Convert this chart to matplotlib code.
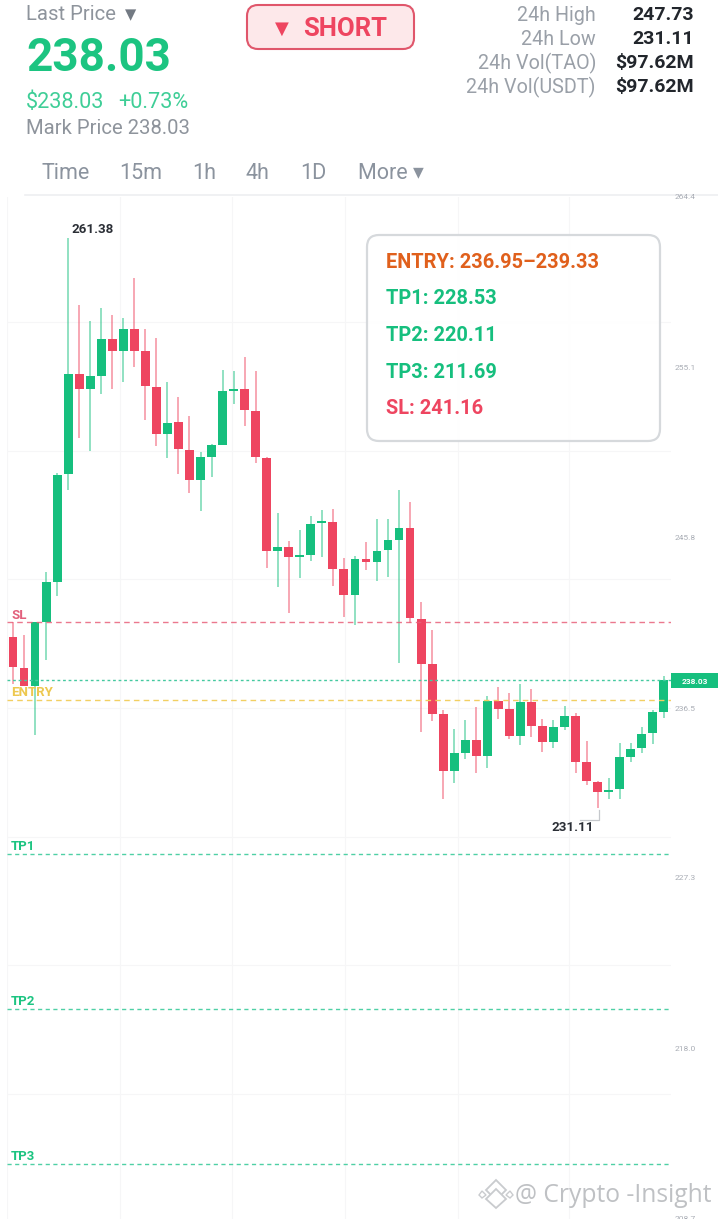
import matplotlib
matplotlib.use("Agg")
import matplotlib.pyplot as plt
import numpy as np
from matplotlib.patches import FancyBboxPatch, Rectangle, Polygon

plt.rcParams['font.family'] = ['Roboto', 'DejaVu Sans']

opens = [240.37, 238.68, 237.70, 241.18, 243.36, 249.25, 254.69, 253.88, 254.58, 256.60,
         255.95, 257.14, 255.95, 253.98, 251.42, 252.08, 250.55, 248.92, 250.17, 250.83,
         253.77, 253.88, 252.68, 250.12, 245.05, 245.27, 244.73, 244.83, 246.58, 246.63,
         244.07, 242.66, 244.62, 244.45, 245.11, 245.65, 246.30, 241.35, 238.90, 236.17,
         233.07, 234.05, 234.76, 233.89, 236.88, 236.45, 234.97, 236.83, 235.52, 234.65,
         235.47, 236.06, 233.56, 232.47, 231.92, 232.09, 233.83, 234.32, 235.14, 236.28]
highs = [241.18, 240.48, 241.18, 243.91, 249.30, 262.10, 258.45, 257.58, 258.29, 257.91,
         257.74, 259.92, 257.14, 256.65, 254.26, 253.44, 252.41, 250.44, 250.88, 254.91,
         254.86, 255.62, 254.86, 250.17, 247.12, 245.60, 246.20, 246.96, 247.29, 247.34,
         244.67, 244.78, 245.54, 246.79, 246.79, 248.37, 247.72, 242.27, 240.75, 236.39,
         235.36, 235.85, 236.55, 237.15, 237.64, 237.32, 237.81, 237.53, 235.90, 235.85,
         236.61, 236.23, 234.70, 232.52, 232.69, 234.59, 234.59, 235.47, 236.39, 238.24]
lows = [237.81, 237.70, 235.03, 239.11, 242.60, 248.37, 251.21, 250.50, 253.60, 253.88,
        254.26, 255.07, 252.19, 250.77, 250.12, 249.25, 248.21, 247.23, 249.08, 250.83,
        253.06, 251.86, 249.85, 244.13, 243.09, 241.67, 243.58, 244.51, 244.73, 243.15,
        241.46, 241.02, 244.02, 243.42, 243.64, 238.95, 241.13, 235.19, 235.79, 231.54,
        232.41, 233.72, 232.96, 233.23, 235.90, 234.81, 234.48, 234.92, 234.10, 234.32,
        235.30, 232.96, 232.31, 231.05, 231.54, 231.54, 233.56, 234.05, 234.54, 235.96]
closes = [238.73, 237.70, 241.18, 243.36, 249.19, 254.69, 253.88, 254.58, 256.60, 255.95,
          257.14, 255.95, 254.04, 251.42, 252.02, 250.61, 248.92, 250.17, 250.83, 253.77,
          253.88, 252.73, 250.17, 245.05, 245.27, 244.73, 244.83, 246.52, 246.63, 244.07,
          242.66, 244.62, 244.45, 245.05, 245.65, 246.30, 241.40, 238.90, 236.17, 233.07,
          234.05, 234.76, 233.89, 236.88, 236.45, 234.97, 236.83, 235.52, 234.65, 235.47,
          236.06, 233.56, 232.52, 231.92, 232.03, 233.83, 234.27, 235.08, 236.28, 238.03]

price_ticks = [264.4, 255.1, 245.8, 236.5, 227.3, 218.0, 208.7]
grid_prices = [257.5, 250.5, 243.5, 236.5, 229.5, 222.5, 215.5]
grid_bars = [-0.54, 9.7, 19.9, 30.1, 40.3, 50.4]

levels = {'SL': 241.16, 'ENTRY': 236.95, 'TP1': 228.53, 'TP2': 220.11, 'TP3': 211.69}
last_price = 238.03

stats_names = ['24h High', '24h Low', '24h Vol(TAO)', '24h Vol(USDT)']
stats_values = ['247.73', '231.11', '$97.62M', '$97.62M']
tabs = ['Time', '15m', '1h', '4h', '1D', 'More ▾']
tab_x = [41, 119, 192, 246, 300, 358]
box_lines = ['ENTRY: 236.95–239.33', 'TP1: 228.53', 'TP2: 220.11', 'TP3: 211.69', 'SL: 241.16']

GREEN = '#16bf7e'
RED = '#ee4560'
W, H = 718, 1219

fig = plt.figure(figsize=(W / 100, H / 100), dpi=100, facecolor='white')

# price chart, scale taken from the axis labels (18.36 px per unit)
left, right, top, bottom = 7, 671, 197, 1219
ax = fig.add_axes([left / W, 1 - bottom / H, (right - left) / W, (bottom - top) / H])
ax.set_xlim((left - 13) / 11.03, (right - 13) / 11.03)
ax.set_ylim(236.5 + (708 - bottom) / 18.36, 236.5 + (708 - top) / 18.36)
for s in ax.spines.values():
    s.set_visible(False)
ax.set_xticks(grid_bars)
ax.set_yticks(grid_prices)
ax.tick_params(length=0, labelbottom=False, labelleft=False)
ax.grid(True, color='#f6f6f7', lw=0.8)
ax.set_axisbelow(True)

o = np.array(opens)
c = np.array(closes)
idx = np.arange(len(o))
cols = [GREEN if b >= a else RED for a, b in zip(o, c)]
ax.vlines(idx, lows, highs, colors=cols, lw=1.1, alpha=0.6, zorder=2)
ax.bar(idx, np.maximum(np.abs(c - o), 0.12), bottom=np.minimum(o, c), width=0.8, color=cols, zorder=3)

ax.axhline(levels['SL'], color='#e8607a', lw=1, ls=(0, (4, 3)), alpha=0.85, zorder=4)
ax.axhline(levels['ENTRY'], color='#f2cf62', lw=1, ls=(0, (4, 3)), zorder=4)
ax.axhline(last_price, color='#45c9a0', lw=1, ls=(0, (2, 2)), zorder=4)
for k in ['TP1', 'TP2', 'TP3']:
    ax.axhline(levels[k], color='#4fd0a5', lw=1, ls=(0, (3, 2.5)), zorder=4)

# overlay in pixels for header, labels and the info card
ov = fig.add_axes([0, 0, 1, 1], zorder=10)
ov.set_xlim(0, W)
ov.set_ylim(H, 0)
ov.axis('off')
ov.patch.set_alpha(0)

ov.text(26, 15, 'Last Price', fontsize=14.6, color='#8e949c', va='center')
ov.text(125, 15, '▼', fontsize=10.5, color='#737a83', va='center')
ov.text(26, 58, '238.03', fontsize=33, color='#1cc481', fontweight='bold', va='center')
ov.text(26, 102, '$238.03', fontsize=15.6, color='#3fce97', va='center')
ov.text(118, 102, '+0.73%', fontsize=15.6, color='#3fce97', va='center')
ov.text(26, 128, 'Mark Price 238.03', fontsize=14.6, color='#8e949c', va='center')

ov.add_patch(FancyBboxPatch((247, 5), 167, 44, boxstyle='round,pad=0,rounding_size=11',
                            fc='#fde8ea', ec='#e0566b', lw=1.5))
ov.text(275, 29, '▼', fontsize=13, color=RED, va='center')
ov.text(303, 29, 'SHORT', fontsize=18.5, color=RED, fontweight='bold', va='center')

for i in range(4):
    y = 15.5 + i * 24
    ov.text(596, y, stats_names[i], fontsize=14.2, color='#9aa0a8', va='center', ha='right')
    ov.text(694, y, stats_values[i], fontsize=14, color='#22262c', fontweight='bold', va='center', ha='right')

for t, x in zip(tabs, tab_x):
    ov.text(x, 173.5, t, fontsize=15.5, color='#8b939e', va='center')
ov.plot([25, 718], [195, 195], color='#eeeff1', lw=1.2)

for p in price_ticks:
    y = 709 - (p - 236.5) * 18.36
    ov.text(685, y, f'{p:.1f}', fontsize=6, color='#a9adb5', va='center', ha='center')

ov.add_patch(Rectangle((671, 673), 47, 15, fc=GREEN, ec='none'))
ov.text(694.5, 681, '238.03', fontsize=6, color='white', fontweight='bold', va='center', ha='center')

ov.text(11, 615.5, 'SL', fontsize=9.5, color='#e2607c', fontweight='bold', va='center')
ov.text(11, 692.5, 'ENTRY', fontsize=9.5, color='#edc84f', fontweight='bold', va='center')
ov.text(11, 846.5, 'TP1', fontsize=9.5, color='#1cc481', fontweight='bold', va='center')
ov.text(11, 1001.5, 'TP2', fontsize=9.5, color='#1cc481', fontweight='bold', va='center')
ov.text(11, 1156.5, 'TP3', fontsize=9.5, color='#1cc481', fontweight='bold', va='center')

ov.text(72, 229.5, '261.38', fontsize=9.6, color='#2b2f36', fontweight='bold', va='center')
ov.text(552, 827.5, '231.11', fontsize=9.6, color='#2b2f36', fontweight='bold', va='center')
ov.plot([598.5, 598.5, 580], [810, 820, 820], color='#c5c8cc', lw=0.9)

ov.add_patch(FancyBboxPatch((367, 235), 293, 206, boxstyle='round,pad=0,rounding_size=12',
                            fc='white', ec='#d4d7db', lw=1.6, alpha=0.95))
box_cols = ['#e0601c', GREEN, GREEN, GREEN, RED]
for i, (t, col) in enumerate(zip(box_lines, box_cols)):
    ov.text(386, 262 + i * 36.7, t, fontsize=14.4, color=col, fontweight='bold', va='center')

# watermark
wm = '#c9cbce'
cx, cy = 496, 1194
ov.add_patch(Polygon([(cx, cy - 14), (cx + 10, cy - 4), (cx, cy + 6), (cx - 10, cy - 4)], fc='white', ec=wm, lw=1.3))
ov.add_patch(Polygon([(cx, cy - 5), (cx + 10, cy + 5), (cx, cy + 14), (cx - 10, cy + 5)], fc='white', ec=wm, lw=1.3))
ov.add_patch(Polygon([(cx - 14, cy - 3), (cx - 10, cy + 1), (cx - 14, cy + 4), (cx - 17, cy + 1)], fc='white', ec=wm, lw=1))
ov.add_patch(Polygon([(cx + 14, cy - 3), (cx + 17, cy + 1), (cx + 14, cy + 4), (cx + 10, cy + 1)], fc='white', ec=wm, lw=1))
ov.text(515, 1195, '@ Crypto -Insight', fontsize=17.7, color='#bfc1c4', va='center', family=['Open Sans', 'DejaVu Sans'])

fig.savefig('out.png', dpi=100, facecolor='white')
